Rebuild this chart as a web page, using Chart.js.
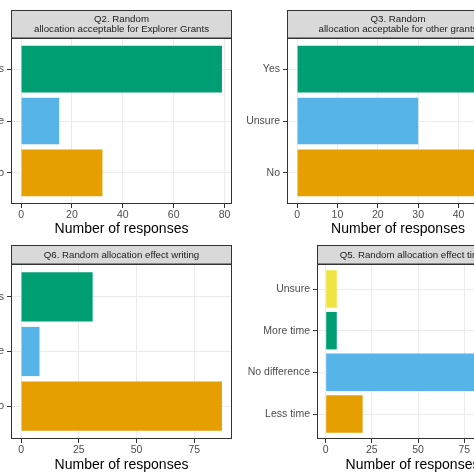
<!DOCTYPE html>
<html><head><meta charset="utf-8">
<script src="https://cdn.jsdelivr.net/npm/chart.js@4.4.1/dist/chart.umd.min.js"></script>
<style>
html,body{margin:0;padding:0;background:#fff;overflow:hidden;}
#wrap{position:relative;width:474px;height:474px;overflow:hidden;background:#fff;}
#wrap canvas{position:absolute;}
</style></head><body>
<div id="wrap">
<canvas id="c2"></canvas>
<canvas id="c3"></canvas>
<canvas id="c6"></canvas>
<canvas id="c5"></canvas>
</div>
<script>
// ---- data ----
const axisTitle = "Number of responses";

const q2Title = ["Q2. Random", "allocation acceptable for Explorer Grants"];
const q2Categories = ["Yes", "Unsure", "No"];
const q2Values = [79, 15, 32];
const q2Colors = ["#009E73", "#56B4E9", "#E69F00"];
const q2Ticks = [0, 20, 40, 60, 80];

const q3Title = ["Q3. Random", "allocation acceptable for other grants"];
const q3Categories = ["Yes", "Unsure", "No"];
const q3Values = [50, 30, 46];
const q3Colors = ["#009E73", "#56B4E9", "#E69F00"];
const q3Ticks = [0, 10, 20, 30, 40, 50];

const q6Title = ["Q6. Random allocation effect writing"];
const q6Categories = ["Yes", "Unsure", "No"];
const q6Values = [31, 8, 87];
const q6Colors = ["#009E73", "#56B4E9", "#E69F00"];
const q6Ticks = [0, 25, 50, 75];

const q5Title = ["Q5. Random allocation effect time"];
const q5Categories = ["Unsure", "More time", "No difference", "Less time"];
const q5Values = [6, 6, 94, 20];
const q5Colors = ["#F0E442", "#009E73", "#56B4E9", "#E69F00"];
const q5Ticks = [0, 25, 50, 75];

// ---- layout ----
const FAMILY = "'Liberation Sans', Arial, Helvetica, sans-serif";
const YW = 70;   // fixed y-axis width
const PR = 10;   // right padding

const stripPlugin = {
  id: 'strip',
  afterDraw(chart, args, opts) {
    const {ctx, chartArea: a} = chart;
    const lines = opts.lines || [];
    ctx.save();
    ctx.fillStyle = '#D9D9D9';
    ctx.fillRect(a.left, 0.5, a.right - a.left, a.top - 0.5);
    ctx.strokeStyle = '#333333';
    ctx.lineWidth = 1;
    ctx.strokeRect(a.left + 0.5, 0.5, a.right - a.left - 1, a.top - 0.5);
    ctx.fillStyle = '#1A1A1A';
    ctx.font = '9.7px ' + FAMILY;
    ctx.textAlign = 'center';
    ctx.textBaseline = 'middle';
    const lh = 10;
    const cx = (a.left + a.right) / 2;
    const cy = a.top / 2 + 0.8;
    lines.forEach((t, i) => {
      ctx.fillText(t, cx, cy + (i - (lines.length - 1) / 2) * lh);
    });
    ctx.strokeRect(a.left + 0.5, a.top + 0.5, a.right - a.left - 1, a.bottom - a.top - 1);
    ctx.restore();
  }
};

function makePanel(id, geo, title, cats, vals, colors, ticks) {
  const canvas = document.getElementById(id);
  const W = YW + (geo.right - geo.left) + PR;
  const H = geo.plotBottom + geo.xh - geo.stripTop;
  canvas.style.left = (geo.left - YW) + 'px';
  canvas.style.top = geo.stripTop + 'px';
  canvas.width = W; canvas.height = H;
  canvas.style.width = W + 'px'; canvas.style.height = H + 'px';
  const maxV = Math.max(...vals);
  const positions = cats.map((c, i) => i + 1);
  const tickFont = {family: FAMILY, size: 10.5};
  new Chart(canvas, {
    type: 'bar',
    data: {
      datasets: [{
        data: cats.map((c, i) => ({x: vals[i], y: positions[i]})),
        backgroundColor: colors,
        borderWidth: 0,
        barPercentage: 0.9,
        categoryPercentage: 1
      }]
    },
    options: {
      responsive: false,
      animation: false,
      indexAxis: 'y',
      layout: {padding: {top: geo.stripH, right: PR, left: 0, bottom: 0}},
      plugins: {legend: {display: false}, tooltip: {enabled: false}, strip: {lines: title}},
      scales: {
        x: {
          type: 'linear',
          offset: false,
          min: -0.05 * maxV, max: 1.05 * maxV,
          afterBuildTicks: s => { s.ticks = ticks.map(v => ({value: v})); },
          afterFit: s => { s.height = geo.xh; },
          grid: {offset: false, color: '#EBEBEB', lineWidth: 1, tickColor: '#333333', tickLength: 4, drawTicks: true},
          border: {display: false},
          ticks: {color: '#4D4D4D', font: tickFont, padding: 1, maxRotation: 0, autoSkip: false},
          title: {display: true, text: axisTitle, color: '#000000', font: {family: FAMILY, size: 14}, padding: {top: 0, bottom: 0}}
        },
        y: {
          type: 'linear',
          offset: false,
          reverse: true,
          min: 0.4, max: cats.length + 0.6,
          afterBuildTicks: s => { s.ticks = positions.map(v => ({value: v})); },
          afterFit: s => { s.width = YW; },
          grid: {offset: false, color: '#EBEBEB', lineWidth: 1, tickColor: '#333333', tickLength: 4, drawTicks: true},
          border: {display: false},
          ticks: {color: '#4D4D4D', font: tickFont, padding: 3, autoSkip: false, callback: (v, i) => cats[i]}
        }
      }
    },
    plugins: [stripPlugin]
  });
}

makePanel('c2', {left: 11, right: 232, stripTop: 10, stripH: 28, plotBottom: 204, xh: 34}, q2Title, q2Categories, q2Values, q2Colors, q2Ticks);
makePanel('c3', {left: 287, right: 509, stripTop: 10, stripH: 28, plotBottom: 204, xh: 34}, q3Title, q3Categories, q3Values, q3Colors, q3Ticks);
makePanel('c6', {left: 11, right: 232, stripTop: 245, stripH: 19, plotBottom: 439, xh: 35}, q6Title, q6Categories, q6Values, q6Colors, q6Ticks);
makePanel('c5', {left: 317, right: 508, stripTop: 245, stripH: 19, plotBottom: 439, xh: 35}, q5Title, q5Categories, q5Values, q5Colors, q5Ticks);
</script>
</body></html>
